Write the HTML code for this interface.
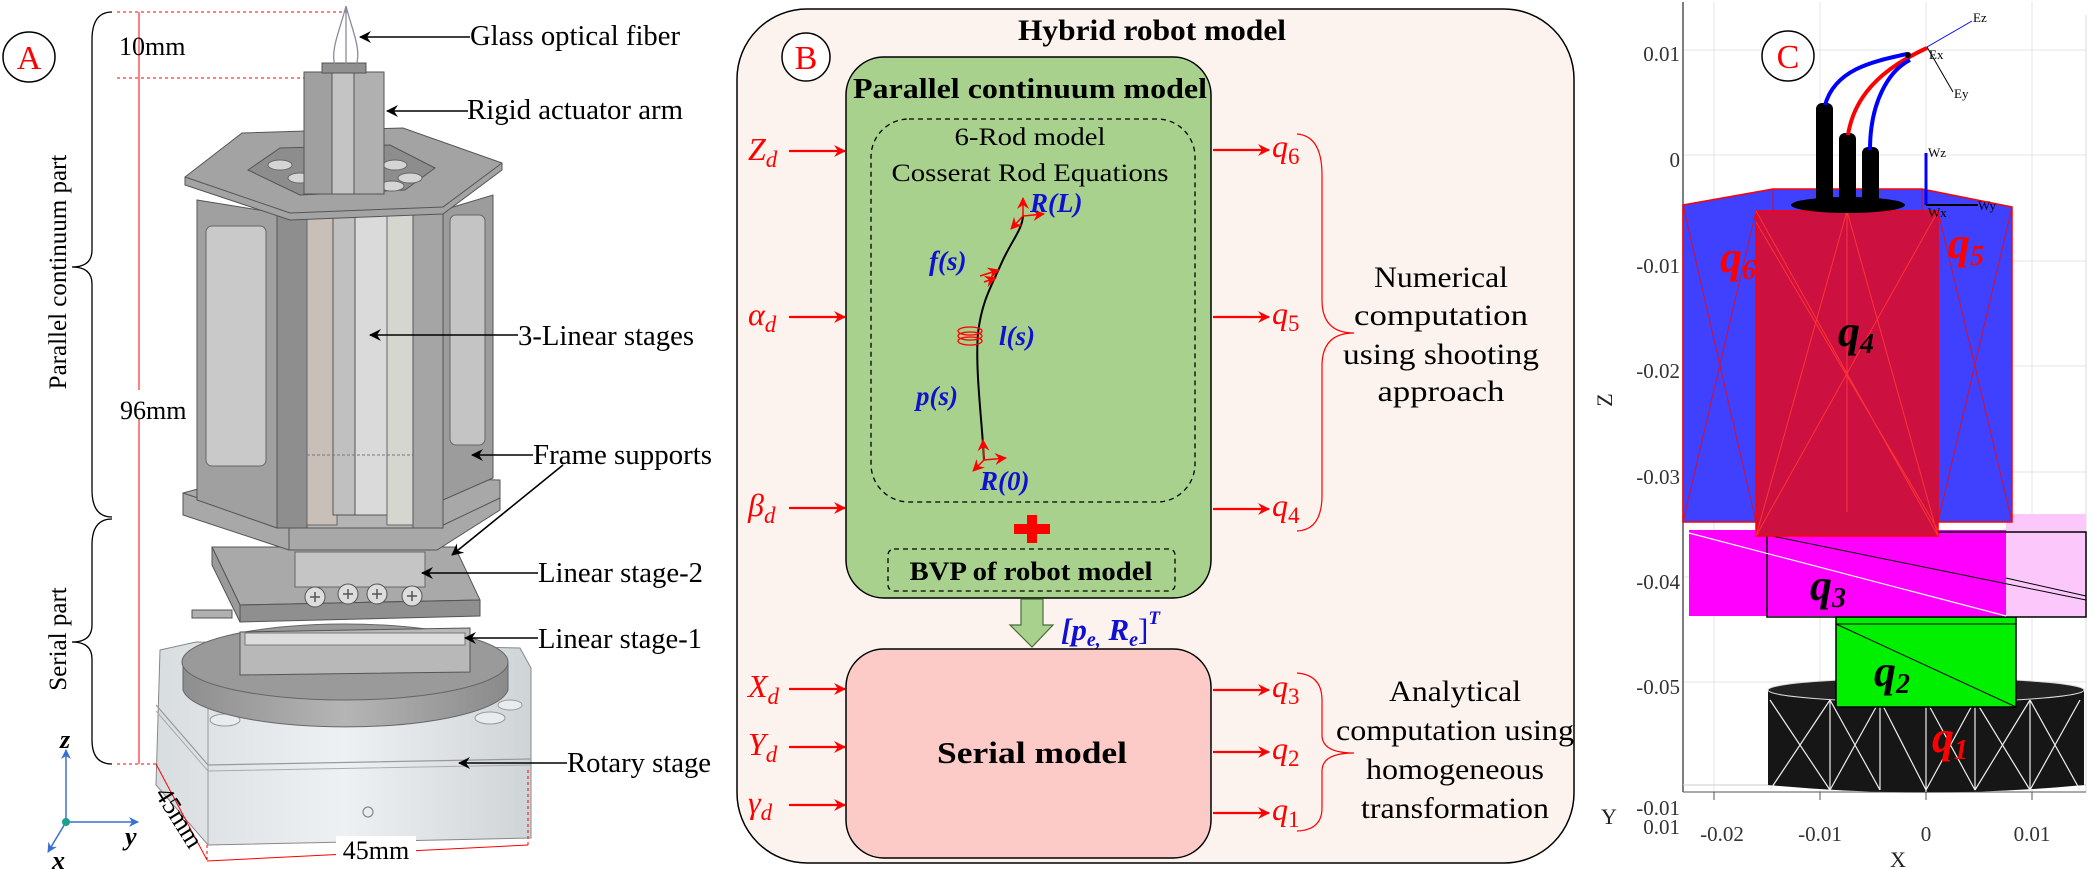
<!DOCTYPE html>
<html><head><meta charset="utf-8"><style>
html,body{margin:0;padding:0;background:#fff;}
svg{display:block;}
text{font-family:"Liberation Serif",serif;}
</style></head><body>
<svg width="2094" height="869" viewBox="0 0 2094 869" xmlns="http://www.w3.org/2000/svg">
<defs>
<marker id="ab" markerWidth="12" markerHeight="12" refX="11" refY="6" orient="auto" markerUnits="userSpaceOnUse"><path d="M0,0 L12,6 L0,12 L4,6 Z" fill="#000"/></marker>
<marker id="ar" markerWidth="12" markerHeight="12" refX="11" refY="6" orient="auto" markerUnits="userSpaceOnUse"><path d="M0,0 L12,6 L0,12 L4,6 Z" fill="#f00"/></marker>
<marker id="abl" markerWidth="10" markerHeight="10" refX="9" refY="5" orient="auto" markerUnits="userSpaceOnUse"><path d="M0,0 L10,5 L0,10 L3,5 Z" fill="#3a6fd0"/></marker>
<linearGradient id="gm" x1="0" x2="1"><stop offset="0" stop-color="#8e8e8e"/><stop offset="0.5" stop-color="#b5b5b5"/><stop offset="1" stop-color="#8a8a8a"/></linearGradient>
<linearGradient id="gb" x1="0" x2="1"><stop offset="0" stop-color="#d8dde0"/><stop offset="0.5" stop-color="#eef1f3"/><stop offset="1" stop-color="#cfd4d7"/></linearGradient>
</defs>

<!-- ================= PANEL A ================= -->
<ellipse cx="29" cy="57" rx="26" ry="25" fill="none" stroke="#000" stroke-width="1.5"/>
<text x="29" y="69" font-size="34" fill="#f00" text-anchor="middle">A</text>

<line x1="117" y1="12" x2="347" y2="12" stroke="#f00" stroke-dasharray="3,3"/>
<line x1="117" y1="78" x2="347" y2="78" stroke="#f00" stroke-dasharray="3,3"/>
<line x1="139" y1="12" x2="139" y2="764" stroke="#f00" stroke-width="1"/>
<line x1="117" y1="764" x2="156" y2="764" stroke="#f00" stroke-dasharray="3,3"/>
<text x="119" y="55" font-size="26">10mm</text>
<rect x="118" y="390" width="74" height="28" fill="#fff"/>
<text x="120" y="419" font-size="26">96mm</text>

<path d="M112,12 Q92,12 92,40 L92,250 Q92,267 72,267 Q92,267 92,284 L92,490 Q92,517 112,517" fill="none" stroke="#000" stroke-width="1.3"/>
<path d="M112,519 Q92,519 92,545 L92,625 Q92,642 72,642 Q92,642 92,659 L92,740 Q92,764 112,764" fill="none" stroke="#000" stroke-width="1.3"/>
<text transform="translate(66,272) rotate(-90)" font-size="25" text-anchor="middle">Parallel continuum part</text>
<text transform="translate(66,639) rotate(-90)" font-size="25" text-anchor="middle">Serial part</text>

<line x1="66" y1="822" x2="66" y2="750" stroke="#3a6fd0" stroke-width="1.5" marker-end="url(#abl)"/>
<line x1="66" y1="822" x2="138" y2="822" stroke="#3a6fd0" stroke-width="1.5" marker-end="url(#abl)"/>
<line x1="66" y1="822" x2="48" y2="852" stroke="#3a6fd0" stroke-width="1.5" marker-end="url(#abl)"/>
<circle cx="66" cy="822" r="4" fill="#1aa090"/>
<text x="60" y="748" font-size="26" font-weight="bold" font-style="italic">z</text>
<text x="125" y="845" font-size="26" font-weight="bold" font-style="italic">y</text>
<text x="52" y="869" font-size="26" font-weight="bold" font-style="italic">x</text>

<!-- rotary base -->
<path d="M160,650 L196,642 L520,648 L531,668 L531,838 L208,845 L156,785 Z" fill="url(#gb)" stroke="#888" stroke-width="1"/>
<path d="M156,705 L208,765 L531,759" fill="none" stroke="#999" stroke-width="1.2"/>
<path d="M156,711 L208,771 L531,765" fill="none" stroke="#aaa" stroke-width="1"/>
<line x1="208" y1="700" x2="208" y2="845" stroke="#999"/>
<circle cx="368" cy="812" r="5" fill="none" stroke="#777"/>
<ellipse cx="225" cy="720" rx="15" ry="6" fill="#e9ecee" stroke="#999"/>
<ellipse cx="490" cy="718" rx="15" ry="6" fill="#e9ecee" stroke="#999"/>
<ellipse cx="510" cy="705" rx="12" ry="5" fill="#e9ecee" stroke="#999"/>
<path d="M183,662 L183,690 A163,40 0 0 0 508,690 L508,662 Z" fill="url(#gm)" stroke="#666"/>
<ellipse cx="345" cy="662" rx="163" ry="38" fill="#9a9a9a" stroke="#666"/>
<path d="M240,632 L470,628 L470,672 L240,675 Z" fill="#b8b8b8" stroke="#555"/>
<rect x="245" y="633" width="220" height="12" fill="#ddd" stroke="#777"/>
<path d="M212,547 L455,547 L480,600 L240,605 Z" fill="#a9a9a9" stroke="#555"/>
<path d="M240,605 L480,600 L480,616 L240,622 Z" fill="#8f8f8f" stroke="#555"/>
<path d="M212,547 L240,605 L240,622 L212,565 Z" fill="#9a9a9a" stroke="#555"/>
<rect x="192" y="610" width="40" height="8" fill="#b0b0b0" stroke="#555"/>
<rect x="295" y="552" width="130" height="35" fill="#c5c5c5" stroke="#666"/>
<g fill="#ddd" stroke="#555">
<circle cx="315" cy="597" r="10"/><circle cx="348" cy="594" r="10"/><circle cx="377" cy="594" r="10"/><circle cx="412" cy="596" r="10"/>
</g>
<g stroke="#555" stroke-width="1.5"><path d="M310,597h10M315,592v10M343,594h10M348,589v10M372,594h10M377,589v10M407,596h10M412,591v10"/></g>

<path d="M183,493 L250,475 L500,480 L500,510 L437,550 L289,550 L183,515 Z" fill="#a8a8a8" stroke="#555"/>
<path d="M289,528 L437,528 L500,498" fill="none" stroke="#555"/>
<path d="M183,493 L289,528 L289,550" fill="none" stroke="#555"/>
<path d="M197,200 L277,213 L277,528 L197,500 Z" fill="#a0a0a0" stroke="#555"/>
<rect x="206" y="226" width="60" height="240" rx="6" fill="#c9c9c9" stroke="#666"/>
<path d="M277,213 L307,213 L307,528 L277,528 Z" fill="#8e8e8e" stroke="#555"/>
<path d="M307,213 L443,210 L443,528 L307,528 Z" fill="#b4b4b4" stroke="#555"/>
<rect x="307" y="215" width="30" height="310" fill="#c8bfb8" stroke="#666"/>
<rect x="333" y="215" width="22" height="300" fill="#c0c0c0" stroke="#555"/>
<rect x="355" y="215" width="32" height="300" fill="#dadada" stroke="#555"/>
<rect x="387" y="215" width="30" height="310" fill="#d6d6d0" stroke="#666"/>
<path d="M307,455 L443,455" stroke="#777" stroke-dasharray="3,2"/>
<path d="M443,210 L493,195 L493,478 L443,500 Z" fill="#9c9c9c" stroke="#555"/>
<rect x="450" y="215" width="35" height="230" rx="6" fill="#c4c4c4" stroke="#666"/>
<path d="M413,210 L443,210 L443,528 L413,528 Z" fill="#a5a5a5" stroke="#555"/>
<path d="M185,177 L242,133 L403,128 L502,163 L502,170 L443,214 L290,220 L185,185 Z" fill="#a3a3a3" stroke="#555"/>
<path d="M185,177 L290,213 L443,207 L502,163" fill="none" stroke="#555"/>
<path d="M248,170 L280,148 L390,145 L435,168 L405,190 L300,195 Z" fill="#8d8d8d" stroke="#555"/>
<g fill="#d5d5d5" stroke="#666"><ellipse cx="280" cy="165" rx="12" ry="5"/><ellipse cx="300" cy="178" rx="12" ry="5"/><ellipse cx="395" cy="165" rx="12" ry="5"/><ellipse cx="410" cy="178" rx="12" ry="5"/><ellipse cx="392" cy="186" rx="12" ry="5"/></g>
<rect x="304" y="72" width="28" height="122" fill="#a0a0a0" stroke="#555"/>
<rect x="332" y="72" width="22" height="122" fill="#c4c4c4" stroke="#555"/>
<rect x="354" y="72" width="30" height="122" fill="#b0b0b0" stroke="#555"/>
<rect x="322" y="63" width="44" height="10" fill="#909090" stroke="#555"/>
<path d="M346,6 C340,30 330,50 335,66 M346,6 C352,30 362,50 356,66 M346,6 C346,30 346,50 346,66" fill="none" stroke="#8a8aa0" stroke-width="1.3"/>

<line x1="156" y1="764" x2="207" y2="860" stroke="#f00" stroke-width="1"/>
<line x1="207" y1="861" x2="528" y2="845" stroke="#f00" stroke-width="1"/>
<line x1="207" y1="845" x2="207" y2="861" stroke="#f00" stroke-dasharray="3,3"/>
<line x1="528" y1="770" x2="528" y2="845" stroke="#f00" stroke-dasharray="3,3"/>
<rect x="336" y="836" width="80" height="26" fill="#fff"/>
<text x="376" y="859" font-size="26" text-anchor="middle">45mm</text>
<text transform="translate(172,822) rotate(58)" font-size="26" text-anchor="middle">45mm</text>

<g stroke="#000" stroke-width="1.6">
<line x1="470" y1="37" x2="360" y2="37" marker-end="url(#ab)"/>
<line x1="468" y1="111" x2="387" y2="111" marker-end="url(#ab)"/>
<line x1="518" y1="335" x2="370" y2="335" marker-end="url(#ab)"/>
<line x1="533" y1="455" x2="472" y2="455" marker-end="url(#ab)"/>
<line x1="563" y1="465" x2="452" y2="555" marker-end="url(#ab)"/>
<line x1="538" y1="573" x2="422" y2="573" marker-end="url(#ab)"/>
<line x1="538" y1="638" x2="465" y2="638" marker-end="url(#ab)"/>
<line x1="567" y1="763" x2="459" y2="763" marker-end="url(#ab)"/>
</g>
<g font-size="29">
<text x="470" y="45" textLength="210" lengthAdjust="spacingAndGlyphs">Glass optical fiber</text>
<text x="467" y="119" textLength="216" lengthAdjust="spacingAndGlyphs">Rigid actuator arm</text>
<text x="518" y="345" textLength="176" lengthAdjust="spacingAndGlyphs">3-Linear stages</text>
<text x="533" y="464" textLength="179" lengthAdjust="spacingAndGlyphs">Frame supports</text>
<text x="538" y="582" textLength="165" lengthAdjust="spacingAndGlyphs">Linear stage-2</text>
<text x="538" y="648" textLength="164" lengthAdjust="spacingAndGlyphs">Linear stage-1</text>
<text x="567" y="772" textLength="144" lengthAdjust="spacingAndGlyphs">Rotary stage</text>
</g>

<!-- ================= PANEL B ================= -->
<rect x="737" y="9" width="837" height="854" rx="70" fill="#fcf3ef" stroke="#000" stroke-width="1.5"/>
<text x="1152" y="40" font-size="30" font-weight="bold" text-anchor="middle" textLength="268" lengthAdjust="spacingAndGlyphs">Hybrid robot model</text>
<circle cx="806" cy="57" r="24" fill="#fff" stroke="#000" stroke-width="1.5"/>
<text x="806" y="69" font-size="34" fill="#f00" text-anchor="middle">B</text>

<rect x="846" y="57" width="365" height="541" rx="38" fill="#a8d18d" stroke="#000" stroke-width="1.5"/>
<text x="1030" y="98" font-size="28" font-weight="bold" text-anchor="middle" textLength="354" lengthAdjust="spacingAndGlyphs">Parallel continuum model</text>
<rect x="871" y="119" width="324" height="383" rx="38" fill="none" stroke="#000" stroke-width="1.3" stroke-dasharray="5,4"/>
<text x="1030" y="145" font-size="25" text-anchor="middle" textLength="151" lengthAdjust="spacingAndGlyphs">6-Rod model</text>
<text x="1030" y="181" font-size="25" text-anchor="middle" textLength="277" lengthAdjust="spacingAndGlyphs">Cosserat Rod Equations</text>
<path d="M984,460 C982,420 975,370 978,333 C982,300 992,285 1002,262 C1012,240 1022,230 1023,216" fill="none" stroke="#000" stroke-width="2"/>
<g stroke="#f00" stroke-width="1.5">
<line x1="1023" y1="216" x2="1023" y2="198" marker-end="url(#ar)"/>
<line x1="1023" y1="216" x2="1044" y2="214" marker-end="url(#ar)"/>
<line x1="1023" y1="216" x2="1011" y2="229" marker-end="url(#ar)"/>
<line x1="984" y1="460" x2="983" y2="440" marker-end="url(#ar)"/>
<line x1="984" y1="460" x2="1006" y2="458" marker-end="url(#ar)"/>
<line x1="984" y1="460" x2="973" y2="471" marker-end="url(#ar)"/>
<line x1="980" y1="276" x2="999" y2="270" marker-end="url(#ar)"/>
<line x1="984" y1="282" x2="996" y2="278" marker-end="url(#ar)"/>
</g>
<g fill="none" stroke="#f00" stroke-width="1.3">
<ellipse cx="970" cy="331" rx="12" ry="4"/><ellipse cx="970" cy="336" rx="12" ry="4"/><ellipse cx="970" cy="341" rx="12" ry="4"/>
</g>
<g fill="#1010d0" font-size="27" font-weight="bold" font-style="italic">
<text x="1030" y="212">R(L)</text>
<text x="929" y="270">f(s)</text>
<text x="999" y="345">l(s)</text>
<text x="916" y="405">p(s)</text>
<text x="980" y="490">R(0)</text>
</g>
<path d="M1027,515 H1037 V524 H1050 V534 H1037 V543 H1027 V534 H1014 V524 H1027 Z" fill="#f00"/>
<rect x="888" y="549" width="287" height="42" rx="6" fill="none" stroke="#000" stroke-width="1.3" stroke-dasharray="5,4"/>
<text x="1031" y="580" font-size="26" font-weight="bold" text-anchor="middle" textLength="243" lengthAdjust="spacingAndGlyphs">BVP of robot model</text>
<path d="M1021,599 H1043 V625 H1053 L1032,647 L1010,625 H1021 Z" fill="#a8d18d" stroke="#4a6b3c" stroke-width="1.2"/>
<text x="1061" y="640" font-size="31" fill="#1010d0" font-style="italic" font-weight="bold">[p<tspan font-size="20" dy="6">e,</tspan><tspan dy="-6"> R</tspan><tspan font-size="20" dy="6">e</tspan><tspan dy="-6" font-weight="normal" font-style="normal">]</tspan><tspan font-size="19" dy="-16">T</tspan></text>

<rect x="846" y="649" width="365" height="209" rx="38" fill="#fccbc7" stroke="#000" stroke-width="1.5"/>
<text x="1032" y="763" font-size="31" font-weight="bold" text-anchor="middle" textLength="190" lengthAdjust="spacingAndGlyphs">Serial model</text>

<g stroke="#f00" stroke-width="2.2">
<line x1="789" y1="151" x2="845" y2="151" marker-end="url(#ar)"/>
<line x1="789" y1="317" x2="845" y2="317" marker-end="url(#ar)"/>
<line x1="789" y1="508" x2="845" y2="508" marker-end="url(#ar)"/>
<line x1="789" y1="689" x2="845" y2="689" marker-end="url(#ar)"/>
<line x1="789" y1="747" x2="845" y2="747" marker-end="url(#ar)"/>
<line x1="789" y1="805" x2="845" y2="805" marker-end="url(#ar)"/>
<line x1="1213" y1="150" x2="1269" y2="150" marker-end="url(#ar)"/>
<line x1="1213" y1="317" x2="1269" y2="317" marker-end="url(#ar)"/>
<line x1="1213" y1="509" x2="1269" y2="509" marker-end="url(#ar)"/>
<line x1="1213" y1="690" x2="1269" y2="690" marker-end="url(#ar)"/>
<line x1="1213" y1="752" x2="1269" y2="752" marker-end="url(#ar)"/>
<line x1="1213" y1="813" x2="1269" y2="813" marker-end="url(#ar)"/>
</g>
<g fill="#f00" font-size="32" font-style="italic" font-family="Liberation Serif">
<text x="748" y="160">Z<tspan font-size="23" dy="7">d</tspan></text>
<text x="748" y="325">α<tspan font-size="23" dy="7">d</tspan></text>
<text x="748" y="516">β<tspan font-size="23" dy="7">d</tspan></text>
<text x="748" y="697">X<tspan font-size="23" dy="7">d</tspan></text>
<text x="748" y="755">Y<tspan font-size="23" dy="7">d</tspan></text>
<text x="748" y="813">γ<tspan font-size="23" dy="7">d</tspan></text>
<text x="1272" y="157">q<tspan font-size="23" dy="7" font-style="normal">6</tspan></text>
<text x="1272" y="324">q<tspan font-size="23" dy="7" font-style="normal">5</tspan></text>
<text x="1272" y="516">q<tspan font-size="23" dy="7" font-style="normal">4</tspan></text>
<text x="1272" y="697">q<tspan font-size="23" dy="7" font-style="normal">3</tspan></text>
<text x="1272" y="759">q<tspan font-size="23" dy="7" font-style="normal">2</tspan></text>
<text x="1272" y="820">q<tspan font-size="23" dy="7" font-style="normal">1</tspan></text>
</g>
<path d="M1297,134 Q1322,136 1322,175 L1322,300 Q1322,333 1354,333 Q1322,333 1322,366 L1322,495 Q1322,530 1297,531" fill="none" stroke="#f00" stroke-width="1.2"/>
<path d="M1297,673 Q1322,675 1322,700 L1322,735 Q1322,753 1354,753 Q1322,753 1322,771 L1322,808 Q1322,830 1297,831" fill="none" stroke="#f00" stroke-width="1.2"/>
<g font-size="30" text-anchor="middle" lengthAdjust="spacingAndGlyphs">
<text x="1441" y="287" textLength="134" lengthAdjust="spacingAndGlyphs">Numerical</text>
<text x="1441" y="325" textLength="174" lengthAdjust="spacingAndGlyphs">computation</text>
<text x="1441" y="364" textLength="196" lengthAdjust="spacingAndGlyphs">using shooting</text>
<text x="1441" y="401" textLength="127" lengthAdjust="spacingAndGlyphs">approach</text>
<text x="1455" y="701" textLength="132" lengthAdjust="spacingAndGlyphs">Analytical</text>
<text x="1455" y="740" textLength="238" lengthAdjust="spacingAndGlyphs">computation using</text>
<text x="1455" y="779" textLength="178" lengthAdjust="spacingAndGlyphs">homogeneous</text>
<text x="1455" y="818" textLength="188" lengthAdjust="spacingAndGlyphs">transformation</text>
</g>

<!-- ================= PANEL C ================= -->
<g stroke="#e4e4e4" stroke-width="1">
<line x1="1714" y1="2" x2="1714" y2="792"/><line x1="1820" y1="2" x2="1820" y2="792"/><line x1="1926" y1="2" x2="1926" y2="792"/><line x1="2032" y1="2" x2="2032" y2="792"/>
<line x1="1683" y1="50" x2="2086" y2="50"/><line x1="1683" y1="155" x2="2086" y2="155"/><line x1="1683" y1="261" x2="2086" y2="261"/><line x1="1683" y1="366" x2="2086" y2="366"/><line x1="1683" y1="472" x2="2086" y2="472"/><line x1="1683" y1="577" x2="2086" y2="577"/><line x1="1683" y1="682" x2="2086" y2="682"/>
</g>
<line x1="1683" y1="2" x2="1683" y2="792" stroke="#555" stroke-width="1.5"/>
<line x1="2086" y1="15" x2="2086" y2="792" stroke="#ddd"/>
<line x1="1683" y1="792" x2="2086" y2="792" stroke="#555" stroke-width="1"/>
<line x1="1683" y1="785" x2="2086" y2="785" stroke="#ccc"/>
<g stroke="#555"><line x1="1714" y1="792" x2="1714" y2="800"/><line x1="1820" y1="792" x2="1820" y2="800"/><line x1="1926" y1="792" x2="1926" y2="800"/><line x1="2032" y1="792" x2="2032" y2="800"/></g>
<g font-size="21" fill="#333" text-anchor="end">
<text x="1680" y="61">0.01</text><text x="1680" y="167">0</text><text x="1680" y="273">-0.01</text><text x="1680" y="378">-0.02</text><text x="1680" y="484">-0.03</text><text x="1680" y="589">-0.04</text><text x="1680" y="694">-0.05</text><text x="1680" y="815">-0.01</text><text x="1680" y="834">0.01</text>
</g>
<g font-size="21" fill="#333" text-anchor="middle">
<text x="1722" y="841">-0.02</text><text x="1820" y="841">-0.01</text><text x="1926" y="841">0</text><text x="2032" y="841">0.01</text>
</g>
<g font-family="Liberation Sans" font-size="22" fill="#222">
<text x="1898" y="867" text-anchor="middle">X</text>
<text x="1609" y="824" text-anchor="middle">Y</text>
<text transform="translate(1612,400) rotate(-90)" text-anchor="middle">Z</text>
</g>

<path d="M1768,690 L1768,785 Q1926,800 2084,785 L2084,690 Z" fill="#161616"/>
<ellipse cx="1926" cy="690" rx="158" ry="12" fill="#222" stroke="#ddd" stroke-width="1"/>
<g stroke="#eee" stroke-width="1.2" fill="none">
<path d="M1770,700 L1830,790 M1830,700 L1770,790 M1830,700 L1880,790 M1880,700 L1830,790 M1975,700 L1926,790 M1926,700 L1975,790 M1975,700 L2030,790 M2030,700 L1975,790 M2030,700 L2080,790 M2080,700 L2030,790 M1880,700 L1926,790"/>
<path d="M1830,700 V790 M1880,700 V790 M1926,700 V792 M1975,700 V790 M2030,700 V790"/>
</g>
<rect x="1836" y="617" width="180" height="90" fill="#00f000" stroke="#000" stroke-width="1.5"/>
<rect x="2008" y="591" width="8" height="26" fill="#30c030" stroke="#000"/>
<line x1="1836" y1="624" x2="2016" y2="707" stroke="#000"/>
<line x1="1836" y1="624" x2="2016" y2="624" stroke="#000"/>
<rect x="2006" y="514" width="80" height="103" fill="#fcc8fc"/>
<rect x="1689" y="530" width="317" height="86" fill="#ff00ff"/>
<rect x="1767" y="532" width="319" height="85" fill="none" stroke="#000" stroke-width="1.5"/>
<line x1="1689" y1="533" x2="2006" y2="616" stroke="#fff" stroke-width="1.2"/>
<line x1="1767" y1="535" x2="2086" y2="600" stroke="#000" stroke-width="1"/>
<line x1="2006" y1="578" x2="2086" y2="596" stroke="#000"/>
<path d="M1683,205 L1773,189 L1922,189 L2012,207 L2012,522 L1683,522 Z" fill="#4040ff" stroke="#f00" stroke-width="1.5"/>
<g stroke="#d01030" stroke-width="1" fill="none">
<path d="M1683,205 L1756,522 M1683,522 L1756,211 M1938,211 L2012,522 M1938,522 L2012,207 M1773,189 L1773,520 M1922,189 L1922,520"/>
</g>
<rect x="1756" y="211" width="182" height="325" fill="#cc1040" stroke="#f00" stroke-width="1.5"/>
<g stroke="#f33" stroke-width="1" fill="none">
<path d="M1756,211 L1938,536 M1756,222 L1938,530 M1938,211 L1756,536 M1847,211 L1847,512 M1756,536 L1847,211 M1938,536 L1847,211"/>
</g>
<ellipse cx="1848" cy="205" rx="57" ry="8" fill="#000"/>
<rect x="1816" y="103" width="17" height="100" rx="6" fill="#000"/>
<rect x="1839" y="133" width="17" height="70" rx="6" fill="#000"/>
<rect x="1862" y="147" width="17" height="56" rx="6" fill="#000"/>
<path d="M1825,105 C1835,70 1870,62 1907,54" fill="none" stroke="#0000ff" stroke-width="4"/>
<path d="M1848,135 C1855,90 1890,65 1927,48" fill="none" stroke="#f00" stroke-width="4"/>
<path d="M1870,150 C1870,100 1890,70 1910,60" fill="none" stroke="#0000ff" stroke-width="4"/>
<circle cx="1908" cy="55" r="3" fill="#000"/>
<line x1="1927" y1="47" x2="1972" y2="21" stroke="#0000ff" stroke-width="1"/>
<line x1="1927" y1="47" x2="1953" y2="92" stroke="#000" stroke-width="1"/>
<line x1="1926" y1="205" x2="1926" y2="153" stroke="#0000ff" stroke-width="3"/>
<line x1="1926" y1="205" x2="1978" y2="205" stroke="#000" stroke-width="2"/>
<g font-family="Liberation Sans" font-size="13" fill="#000">
<text x="1973" y="22">Ez</text><text x="1929" y="59">Ex</text><text x="1954" y="98">Ey</text>
<text x="1928" y="157">Wz</text><text x="1928" y="217">Wx</text><text x="1978" y="210">Wy</text>
</g>
<ellipse cx="1788" cy="56" rx="26" ry="25" fill="#fff" stroke="#000" stroke-width="1.5"/>
<text x="1788" y="68" font-size="34" fill="#f00" text-anchor="middle">C</text>
<g font-size="44" font-weight="bold" font-style="italic">
<text x="1720" y="272" fill="#f00">q<tspan font-size="28" dy="7">6</tspan></text>
<text x="1948" y="258" fill="#f00">q<tspan font-size="28" dy="7">5</tspan></text>
<text x="1838" y="346" fill="#000">q<tspan font-size="28" dy="7">4</tspan></text>
<text x="1810" y="600" fill="#000">q<tspan font-size="28" dy="7">3</tspan></text>
<text x="1874" y="686" fill="#000">q<tspan font-size="28" dy="7">2</tspan></text>
<text x="1932" y="752" fill="#f00">q<tspan font-size="28" dy="7">1</tspan></text>
</g>
</svg>
</body></html>
